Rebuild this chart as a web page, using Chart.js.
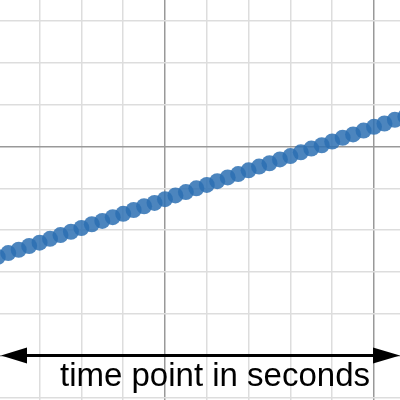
<!DOCTYPE html>
<html>
<head>
<meta charset="utf-8">
<script src="https://cdn.jsdelivr.net/npm/chart.js@4"></script>
<style>
  html, body { margin: 0; padding: 0; background: #fff; }
  #wrap { width: 400px; height: 400px; position: relative; }
</style>
</head>
<body>
<div id="wrap"><canvas id="chart"></canvas></div>
<script>
// time points (grid units) and measured values
let times = [-4, -3.75, -3.5, -3.25, -3, -2.75, -2.5, -2.25, -2, -1.75,
  -1.5, -1.25, -1, -0.75, -0.5, -0.25, 0, 0.25, 0.5, 0.75,
  1, 1.25, 1.5, 1.75, 2, 2.25, 2.5, 2.75, 3, 3.25,
  3.5, 3.75, 4, 4.25, 4.5, 4.75, 5, 5.25, 5.5, 5.75];
let values = [-2.64, -2.55, -2.47, -2.38, -2.30, -2.21, -2.12, -2.04, -1.95, -1.86,
  -1.78, -1.69, -1.61, -1.52, -1.43, -1.35, -1.26, -1.17, -1.09, -1.00,
  -0.92, -0.83, -0.74, -0.66, -0.57, -0.48, -0.40, -0.31, -0.23, -0.14,
  -0.05, 0.03, 0.12, 0.21, 0.29, 0.38, 0.47, 0.55, 0.64, 0.72];
let axisLabel = "time point in seconds";
let arrowLevel = -5;

let points = times.map((t, i) => ({ x: t, y: values[i] }));

function gridColor(ctx) {
  return ctx.tick && ctx.tick.value % 5 === 0 ? "#999999" : "#dddddd";
}

// double arrow and label drawn on top of the grid
const arrowPlugin = {
  id: "arrowLabel",
  afterDatasetsDraw(chart) {
    const c = chart.ctx;
    const area = chart.chartArea;
    const yPix = chart.scales.y.getPixelForValue(arrowLevel);
    c.save();
    c.strokeStyle = "#000";
    c.fillStyle = "#000";
    c.lineWidth = 3;
    c.beginPath();
    c.moveTo(area.left + 15, yPix);
    c.lineTo(area.right - 15, yPix);
    c.stroke();
    // left head
    c.beginPath();
    c.moveTo(area.left + 1, yPix);
    c.lineTo(area.left + 27, yPix - 8);
    c.lineTo(area.left + 27, yPix + 8);
    c.closePath();
    c.fill();
    // right head
    c.beginPath();
    c.moveTo(area.right, yPix);
    c.lineTo(area.right - 27, yPix - 8);
    c.lineTo(area.right - 27, yPix + 8);
    c.closePath();
    c.fill();
    c.font = "33px 'Liberation Sans', Arial, sans-serif";
    c.textAlign = "right";
    c.textBaseline = "alphabetic";
    c.fillText(axisLabel, area.right - 30, yPix + 31);
    c.restore();
  },
};

new Chart(document.getElementById("chart"), {
  type: "scatter",
  plugins: [arrowPlugin],
  data: {
    datasets: [
      {
        data: points,
        backgroundColor: "rgba(45, 112, 179, 0.85)",
        borderWidth: 0,
        pointRadius: 8,
        pointHoverRadius: 8,
      },
    ],
  },
  options: {
    responsive: true,
    maintainAspectRatio: false,
    animation: false,
    layout: { padding: 0, autoPadding: false },
    plugins: {
      legend: { display: false },
      tooltip: { enabled: false },
    },
    scales: {
      x: {
        type: "linear",
        min: -3.947,
        max: 5.622,
        border: { display: false },
        grid: { color: gridColor, lineWidth: 1.5, drawTicks: false },
        ticks: { display: false, stepSize: 1, includeBounds: false },
      },
      y: {
        type: "linear",
        min: -6.065,
        max: 3.505,
        border: { display: false },
        grid: { color: gridColor, lineWidth: 1.5, drawTicks: false },
        ticks: { display: false, stepSize: 1, includeBounds: false },
      },
    },
  },
});
</script>
</body>
</html>
